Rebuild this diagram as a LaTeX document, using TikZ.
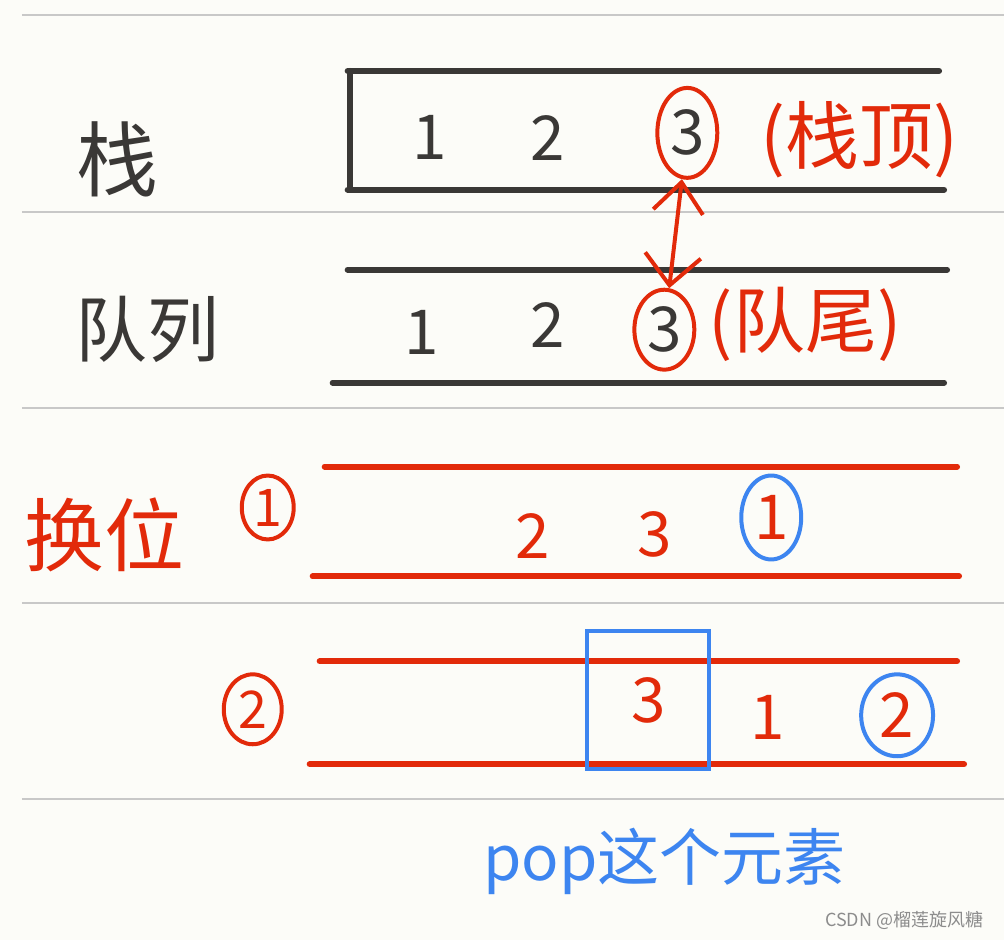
\documentclass[tikz,border=0pt]{standalone}
\usepackage{fontspec}
\setmainfont{Noto Sans CJK SC}
\usetikzlibrary{shapes.geometric, arrows.meta, positioning}
\definecolor{paper}{RGB}{252,252,248}
\definecolor{rulegray}{RGB}{200,200,200}
\definecolor{ink}{RGB}{58,56,54}
\definecolor{inkred}{RGB}{226,42,10}
\definecolor{inkblue}{RGB}{61,133,240}

\begin{document}
\begin{tikzpicture}[x=1pt,y=-1pt,
    ruling/.style={rulegray,line width=2pt},
    bar/.style={ink,line width=6pt,line cap=round},
    redbar/.style={inkred,line width=6pt,line cap=round},
    num/.style={font=\fontsize{62}{62}\selectfont,inner sep=0pt},
    word/.style={font=\fontsize{#1}{#1}\selectfont,inner sep=0pt},
    ring/.style={ellipse,draw,line width=4pt,inner sep=0pt}]
    % paper
    \fill[paper] (0,0) rectangle (1005,941);
    \foreach \y in {15,212,408,604,800}
        \draw[ruling] (22,\y) -- (1005,\y);

    % Stack
    \node[word=82,ink] (stk) at (118,160) {栈};
    \draw[bar] (348,71) -- (940,71);
    \draw[bar] (348,190) -- (945,190);
    \draw[bar] (350,71) -- (350,190);
    \node[num,ink] (s1) at (430,138) {1};
    \node[num,ink] (s2) at (548,138) {2};
    \node[num,ink,ring,draw=inkred,minimum width=60pt,minimum height=90pt] (s3) at (688,133) {3};
    \node[word=74,inkred] (stop) at (860,140) {(栈顶)};

    % Queue
    \node[word=72,ink] (que) at (148,330) {队列};
    \draw[bar] (348,270) -- (948,270);
    \draw[bar] (333,383) -- (945,383);
    \node[num,ink] (q1) at (422,333) {1};
    \node[num,ink] (q2) at (548,325) {2};
    \node[num,ink,ring,draw=inkred,minimum width=60pt,minimum height=80pt] (q3) at (665,330) {3};
    \node[word=72,inkred] (qend) at (806,325) {(队尾)};

    % arrow
    \draw[inkred,line width=4pt,{Straight Barb[length=30pt,width=50pt]}-{Straight Barb[length=30pt,width=56pt]}] (s3) -- (q3);

    % Swap step 1
    \node[word=80,inkred] (swap) at (105,535) {换位};
    \node[num,inkred,ring,font=\fontsize{52}{52}\selectfont,minimum width=52pt,minimum height=64pt] (c1) at (268,508) {1};
    \draw[redbar] (325,467) -- (958,467);
    \draw[redbar] (313,577) -- (960,577);
    \node[num,inkred] (a2) at (533,537) {2};
    \node[num,inkred] (a3) at (655,535) {3};
    \node[num,inkred,ring,draw=inkblue,minimum width=60pt,minimum height=84pt] (a1) at (772,518) {1};

    % Swap step 2
    \node[num,inkred,ring,font=\fontsize{52}{52}\selectfont,minimum width=58pt,minimum height=70pt] (c2) at (253,710) {2};
    \draw[redbar] (320,662) -- (958,662);
    \draw[redbar] (310,765) -- (965,765);
    \node[num,inkred,draw=inkblue,line width=4pt,minimum width=122pt,minimum height=138pt] (b3) at (649,701) {3};
    \node[num,inkred] (b1) at (768,718) {1};
    \node[num,inkred,ring,draw=inkblue,minimum width=72pt,minimum height=82pt] (b2) at (898,716) {2};

    % note
    \node[word=62,inkblue] (pop) at (665,862) {pop这个元素};
    \node[word=18,black!45] (mark) at (905,921) {CSDN @榴莲旋风糖};
\end{tikzpicture}
\end{document}
